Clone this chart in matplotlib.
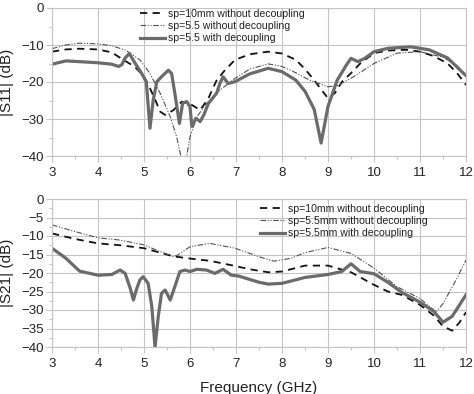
import matplotlib
matplotlib.use("Agg")
import matplotlib.pyplot as plt
from matplotlib.ticker import MultipleLocator

plt.rcParams['font.family'] = ['Liberation Sans', 'DejaVu Sans']

# ---------------- data: |S11| ----------------
s11_10_x = [3, 3.3, 3.6, 4, 4.3, 4.5, 4.8, 5.0, 5.13, 5.25, 5.35, 5.46, 5.64, 5.82, 5.93, 6.04,
            6.22, 6.4, 6.58, 6.76, 6.98, 7.3, 7.7, 8.0, 8.3, 8.5, 8.7, 8.85, 9.0, 9.15, 9.3,
            9.5, 9.7, 10.0, 10.3, 10.7, 11.0, 11.3, 11.6, 11.8, 12.0]
s11_10_y = [-11.8, -11.2, -11.0, -11.2, -12.0, -13.6, -15.9, -18.5, -21.7, -25.0, -28.0, -28.9,
            -27.6, -25.3, -25.7, -26.2, -27.6, -24.4, -19.5, -16.8, -14.0, -12.5, -11.8, -12.3,
            -14.0, -16.5, -19.5, -22.0, -24.4, -23.0, -20.0, -17.6, -15.0, -12.2, -11.5, -11.3,
            -11.8, -13.0, -15.0, -17.5, -20.8]

s11_55_x = [3, 3.3, 3.6, 4, 4.3, 4.6, 4.91, 5.13, 5.35, 5.57, 5.71, 5.8, 5.87, 5.93, 6.0, 6.15,
            6.36, 6.65, 6.98, 7.3, 7.7, 8.0, 8.3, 8.6, 9.0, 9.2, 9.5, 10.0, 10.5, 11.0, 11.5,
            11.8, 12.0]
s11_55_y = [-11.0, -10.0, -9.5, -9.7, -10.2, -11.4, -14.0, -17.7, -23.0, -29.4, -34.8, -40.0,
            -42.0, -40.0, -34.8, -29.4, -25.8, -22.2, -19.0, -16.5, -15.1, -15.8, -17.5, -19.5,
            -21.3, -21.0, -19.0, -15.0, -12.2, -11.8, -13.3, -15.5, -18.5]

s11_dec_x = [3, 3.3, 3.6, 4, 4.3, 4.45, 4.52, 4.59, 4.68, 4.8, 4.95, 5.05, 5.13, 5.2, 5.28,
             5.38, 5.53, 5.6, 5.67, 5.77, 5.84, 5.93, 6.0, 6.04, 6.13, 6.22, 6.3, 6.4, 6.58,
             6.65, 6.72, 6.83, 6.98, 7.3, 7.7, 8.0, 8.3, 8.5, 8.7, 8.85, 9.0, 9.2, 9.4, 9.5,
             9.65, 9.8, 10.0, 10.3, 10.8, 11.2, 11.6, 12.0]
s11_dec_y = [-15.2, -14.3, -14.5, -14.8, -15.2, -15.8, -15.3, -13.5, -12.3, -14.8, -17.7, -20.0,
             -32.5, -24.9, -19.9, -18.6, -16.8, -17.7, -23.0, -31.2, -25.7, -25.3, -26.7, -32.0,
             -29.8, -30.7, -28.9, -25.8, -23.0, -20.4, -18.6, -20.4, -19.9, -17.8, -16.3, -17.2,
             -19.5, -22.5, -27.4, -36.5, -26.6, -19.5, -15.4, -13.6, -14.5, -13.6, -11.8, -10.9,
             -10.5, -11.3, -13.5, -18.3]

# ---------------- data: |S21| ----------------
s21_10_x = [3, 3.5, 4, 4.48, 5.0, 5.64, 6.0, 6.43, 6.98, 7.3, 7.7, 8.0, 8.5, 9.0, 9.5, 10.0,
            10.3, 10.6, 11.0, 11.3, 11.5, 11.7, 11.85, 12.0]
s21_10_y = [-9.3, -10.8, -12.0, -12.5, -13.3, -15.5, -16.1, -16.7, -18.1, -19.0, -19.8, -19.6,
            -18.0, -18.0, -19.8, -23.2, -25.0, -25.9, -28.6, -31.5, -34.4, -35.6, -33.5, -30.6]

s21_55_x = [3, 3.5, 4, 4.48, 5.0, 5.35, 5.64, 5.74, 6.0, 6.43, 6.98, 7.5, 7.83, 8.2, 8.5, 9.0,
            9.5, 10.0, 10.5, 11.0, 11.35, 11.5, 11.8, 12.0]
s21_55_y = [-7.0, -8.8, -10.5, -11.1, -12.4, -14.2, -15.6, -15.1, -12.9, -12.0, -13.3, -15.6,
            -16.8, -16.0, -14.5, -13.1, -14.7, -18.7, -23.7, -26.9, -30.5, -28.3, -21.5, -16.5]

s21_dec_x = [3, 3.3, 3.6, 4, 4.3, 4.48, 4.59, 4.7, 4.77, 4.84, 4.91, 4.98, 5.09, 5.17, 5.24,
             5.31, 5.38, 5.46, 5.57, 5.67, 5.78, 5.89, 6.0, 6.15, 6.36, 6.54, 6.72, 6.9, 7.05,
             7.5, 7.7, 8.0, 8.5, 9.0, 9.3, 9.5, 9.7, 10.0, 10.3, 10.6, 11.0, 11.3, 11.5, 11.7,
             12.0]
s21_dec_y = [-13.3, -16.0, -19.5, -20.6, -20.4, -19.2, -20.1, -24.1, -27.3, -24.3, -21.9, -21.0,
             -22.8, -29.1, -40.0, -31.8, -25.5, -24.6, -27.3, -23.7, -19.6, -19.2, -19.6, -19.0,
             -19.2, -20.1, -19.0, -20.6, -20.8, -22.5, -23.0, -22.8, -21.2, -20.4, -19.6, -17.5,
             -19.6, -20.2, -22.5, -25.2, -27.9, -30.4, -33.3, -31.7, -25.9]

x_ticks = [3, 4, 5, 6, 7, 8, 9, 10, 11, 12]
labels_top = ["sp=10mm without decoupling", "sp=5.5 without decoupling", "sp=5.5 with decoupling"]
labels_bot = ["sp=10mm without decoupling", "sp=5.5mm without decoupling", "sp=5.5mm with decoupling"]

# ---------------- figure ----------------
W, H = 474, 394
fig = plt.figure(figsize=(W / 100, H / 100), dpi=100)
ax1 = fig.add_axes([52 / W, 1 - 156 / H, 414 / W, 148 / H])
ax2 = fig.add_axes([52 / W, 1 - 347 / H, 414 / W, 148 / H])

grid_c = '#c4c4c4'
dash_kw = dict(color='#111111', lw=1.3, linestyle=(0, (4.0, 3.0)))
dd_kw = dict(color='#505050', lw=0.8, linestyle=(0, (5, 1.5, 1, 1.5, 1, 1.5)))
sol_kw = dict(color='#6b6b6b', lw=2.3, solid_joinstyle='round')

ax1.plot(s11_10_x, s11_10_y, label=labels_top[0], **dash_kw)
ax1.plot(s11_55_x, s11_55_y, label=labels_top[1], **dd_kw)
ax1.plot(s11_dec_x, s11_dec_y, label=labels_top[2], **sol_kw)

ax2.plot(s21_10_x, s21_10_y, label=labels_bot[0], **dash_kw)
ax2.plot(s21_55_x, s21_55_y, label=labels_bot[1], **dd_kw)
ax2.plot(s21_dec_x, s21_dec_y, label=labels_bot[2], **sol_kw)

for ax, step, minor in ((ax1, 10, 5), (ax2, 5, 2.5)):
    ax.set_xlim(3, 12)
    ax.set_ylim(-40, 0)
    ax.set_xticks(x_ticks)
    ax.xaxis.set_minor_locator(MultipleLocator(0.5))
    ax.yaxis.set_major_locator(MultipleLocator(step))
    ax.yaxis.set_minor_locator(MultipleLocator(minor))
    ax.grid(True, which='major', color=grid_c, lw=0.8)
    ax.set_axisbelow(True)
    for s in ax.spines.values():
        s.set_color(grid_c)
        s.set_linewidth(0.8)
    ax.tick_params(which='major', direction='out', length=4, width=0.8, color=grid_c,
                   labelsize=9.5, labelcolor='#222222', pad=2)
    ax.tick_params(which='minor', direction='out', length=2, width=0.8, color=grid_c)
    ax.tick_params(axis='x', which='major', pad=4)

ax1.set_ylabel('|S11| (dB)', fontsize=11, color='#222222', labelpad=5)
ax2.set_ylabel('|S21| (dB)', fontsize=11, color='#222222', labelpad=5)
ax2.set_xlabel('Frequency (GHz)', fontsize=11, color='#222222', labelpad=8)

leg_kw = dict(frameon=False, fontsize=7.6, handlelength=2.4, handletextpad=0.25,
              labelspacing=0.2, borderpad=0, borderaxespad=0, loc='upper left')
l1 = ax1.legend(bbox_to_anchor=((140 - 52) / 414, (156 - 9) / 148), **leg_kw)
l2 = ax2.legend(bbox_to_anchor=((260 - 52) / 414, (347 - 204) / 148), **leg_kw)
for l in (l1, l2):
    for t in l.get_texts():
        t.set_color('#222222')

fig.savefig('out.png', dpi=100)
